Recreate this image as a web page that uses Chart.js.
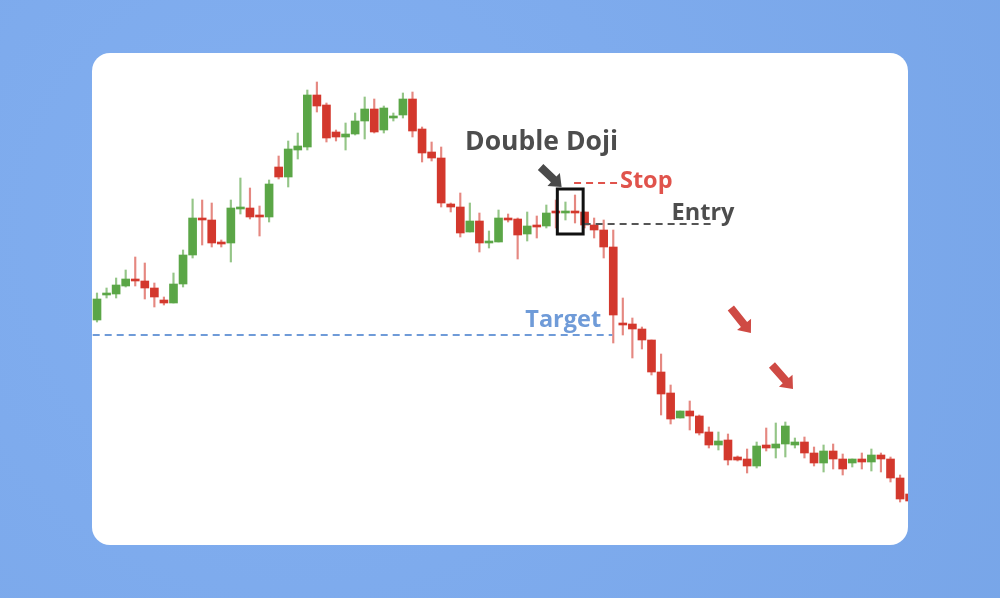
<!DOCTYPE html>
<html>
<head>
<meta charset="utf-8">
<script src="https://cdn.jsdelivr.net/npm/chart.js@4.4.0/dist/chart.umd.min.js"></script>
<style>
  html, body { margin: 0; padding: 0; }
  body {
    width: 1000px; height: 598px; overflow: hidden;
    background: #7cabf0;
    background-image: radial-gradient(circle at 30% 40%, rgba(255,255,255,0.05), rgba(0,0,0,0.03));
    position: relative;
  }
  #card {
    position: absolute; left: 92px; top: 53px; width: 816px; height: 492px;
    background: #fff; border-radius: 18px; overflow: hidden;
  }
</style>
</head>
<body>
<div id="card"><canvas id="chart"></canvas></div>
<script>
// candle data, price units
var opens = [280,305,306,314,321,319,312,300,297,316,345,382,380,358,357,391,392,384,383,433,
  423,450,453,505,495,468,463,466,479,491,470,482,485,501,471,448,442,396,393,368,
  379,357,358,382,381,366,375,374,388,387,388,388,375,370,353,277,276,271,260,228,
  207,182,189,184,168,155,160,143,141,134,155,152,156,155,158,147,137,149,141,137,
  141,138,145,141,122,106];
var closes = [301,307,315,321,319,312,303,297,316,345,382,380,357,356,392,392,383,383,416,423,
  451,454,505,494,462,463,466,479,491,468,492,484,501,469,447,442,397,393,367,379,
  357,358,382,380,365,374,373,387,387,388,387,375,370,353,285,275,271,260,228,206,
  181,189,184,167,155,159,140,140,134,154,152,156,174,158,147,137,149,141,131,141,
  138,145,141,122,101,99];
var highs = [307,312,322,330,343,337,317,303,327,350,401,400,397,360,400,422,412,394,420,444,
  459,467,510,518,497,470,477,487,503,501,494,487,507,508,473,458,453,397,407,397,
  387,369,390,386,382,388,384,395,400,398,405,388,382,380,370,302,282,273,260,246,
  215,189,199,185,173,168,166,144,151,158,172,177,178,162,163,153,155,156,146,141,
  147,151,147,143,125,108];
var lows = [278,302,302,313,314,301,293,295,297,313,342,355,353,353,338,386,381,364,378,421,
  413,441,450,488,458,459,450,465,461,467,467,479,482,463,438,439,393,388,363,368,
  348,352,358,378,341,359,362,372,372,380,377,372,362,342,257,265,242,251,225,185,
  176,182,170,165,152,150,135,139,127,132,149,142,143,152,142,134,128,131,125,133,
  131,129,128,118,98,96];

var n = closes.length;
var green = "#5ba647";
var red = "#d3382d";
var greenWick = "rgba(91,166,71,0.65)";
var redWick = "rgba(211,56,45,0.6)";

var bodies = [], wicks = [], bodyColors = [], wickColors = [];
for (var i = 0; i < n; i++) {
  bodies.push({ x: i, y: [opens[i], closes[i]] });
  wicks.push({ x: i, y: [lows[i], highs[i]] });
  var up = closes[i] >= opens[i];
  bodyColors.push(up ? green : red);
  wickColors.push(up ? greenWick : redWick);
}

// annotation levels (price)
var stopLevel = 417, entryLevel = 376, targetLevel = 265;

const notes = {
  id: "notes",
  afterDatasetsDraw(chart) {
    var ctx = chart.ctx, x = chart.scales.x, y = chart.scales.y;
    ctx.save();

    // dashed lines
    function dash(i0, i1, p, color, w) {
      ctx.beginPath();
      ctx.setLineDash([7, 5]);
      ctx.strokeStyle = color;
      ctx.lineWidth = w;
      ctx.moveTo(x.getPixelForValue(i0), y.getPixelForValue(p));
      ctx.lineTo(x.getPixelForValue(i1), y.getPixelForValue(p));
      ctx.stroke();
    }
    dash(-0.45, 53.9, targetLevel, "#6f9bd8", 2);
    dash(49.9, 54.4, stopLevel, "#e0534c", 2);
    dash(50.9, 64.6, entryLevel, "#555555", 2);
    ctx.setLineDash([]);

    // box round the two dojis
    ctx.strokeStyle = "#111";
    ctx.lineWidth = 3;
    var bx0 = x.getPixelForValue(48.15), bx1 = x.getPixelForValue(50.85);
    var by0 = y.getPixelForValue(411), by1 = y.getPixelForValue(366);
    ctx.strokeRect(bx0, by0, bx1 - bx0, by1 - by0);

    // arrows
    function arrow(i0, p0, i1, p1, color) {
      var x0 = x.getPixelForValue(i0), y0 = y.getPixelForValue(p0);
      var x1 = x.getPixelForValue(i1), y1 = y.getPixelForValue(p1);
      var dx = x1 - x0, dy = y1 - y0, len = Math.sqrt(dx * dx + dy * dy);
      var ux = dx / len, uy = dy / len, nx = -uy, ny = ux;
      var sw = 4, hw = 9, hl = 11;
      var hx = x1 - ux * hl, hy = y1 - uy * hl;
      ctx.beginPath();
      ctx.moveTo(x0 + nx * sw, y0 + ny * sw);
      ctx.lineTo(hx + nx * sw, hy + ny * sw);
      ctx.lineTo(hx + nx * hw, hy + ny * hw);
      ctx.lineTo(x1, y1);
      ctx.lineTo(hx - nx * hw, hy - ny * hw);
      ctx.lineTo(hx - nx * sw, hy - ny * sw);
      ctx.lineTo(x0 - nx * sw, y0 - ny * sw);
      ctx.closePath();
      ctx.fillStyle = color;
      ctx.fill();
    }
    arrow(46.4, 433, 48.6, 413, "#4a4a4a");
    arrow(66.3, 292, 68.4, 267, "#cf4a44");
    arrow(70.6, 235, 72.8, 211, "#cf4a44");

    // texts
    ctx.textBaseline = "alphabetic";
    ctx.font = "bold 26.5px 'Open Sans'";
    ctx.fillStyle = "#4d4d4d";
    ctx.fillText("Double Doji", x.getPixelForValue(38.5), y.getPixelForValue(450));
    ctx.font = "bold 23.5px 'Open Sans'";
    ctx.fillStyle = "#e0534c";
    ctx.fillText("Stop", x.getPixelForValue(54.7), y.getPixelForValue(412));
    ctx.fillStyle = "#4d4d4d";
    ctx.fillText("Entry", x.getPixelForValue(60.1), y.getPixelForValue(380));
    ctx.fillStyle = "#6f9bd8";
    ctx.fillText("Target", x.getPixelForValue(44.8), y.getPixelForValue(273));
    ctx.restore();
  }
};

var ctx = document.getElementById("chart").getContext("2d");
var chart = new Chart(ctx, {
  type: "bar",
  data: {
    datasets: [
      {
        label: "wicks",
        data: wicks,
        backgroundColor: wickColors,
        barThickness: 1.5,
        grouped: false,
        borderWidth: 0,
      },
      {
        label: "bodies",
        data: bodies,
        backgroundColor: bodyColors,
        barThickness: 8,
        minBarLength: 2,
        grouped: false,
        borderWidth: 0,
      },
    ],
  },
  options: {
    responsive: true,
    maintainAspectRatio: false,
    animation: false,
    layout: { padding: 0 },
    plugins: { legend: { display: false }, tooltip: { enabled: false } },
    scales: {
      x: { type: "linear", min: -0.523, max: 84.83, offset: false, display: false },
      y: { min: 55, max: 547, display: false },
    },
  },
  plugins: [notes],
});
</script>
</body>
</html>
